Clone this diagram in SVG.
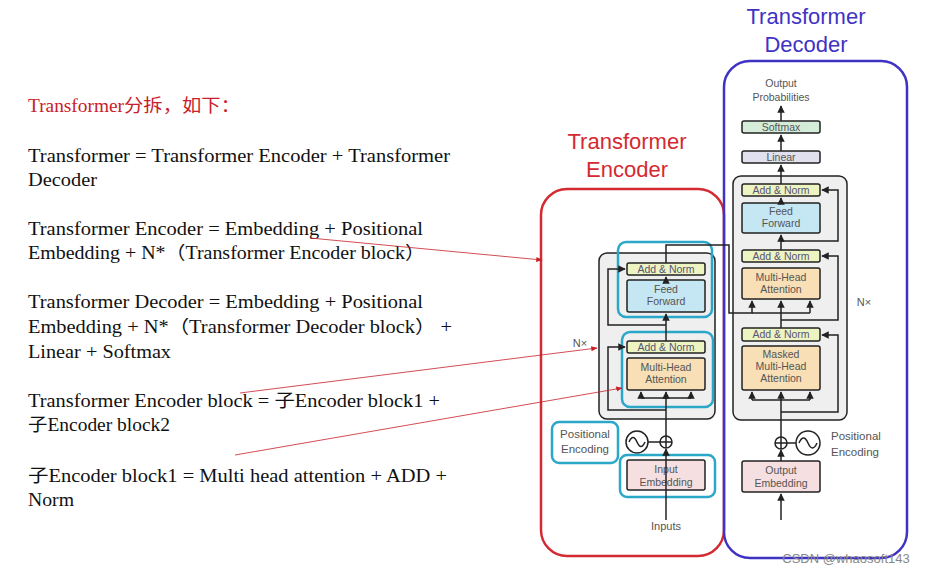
<svg xmlns="http://www.w3.org/2000/svg" width="936" height="574" viewBox="0 0 936 574">
<style>
.t{font-family:"Liberation Serif","Noto Sans CJK SC",serif;font-size:18px;fill:#111}
.s{font-family:"Liberation Sans",Arial,sans-serif;font-size:10.5px;fill:#555;text-anchor:middle}
.h{font-family:"Liberation Sans",Arial,sans-serif;font-size:22px;text-anchor:middle}
.b{stroke:#222;stroke-width:1.5}
.an{fill:#eef3c2}.ff{fill:#c5e6f3}.mh{fill:#f8dfb6}.em{fill:#f5dfe0}
.c{fill:none;stroke:#2aa7c9;stroke-width:2.5}
.l{fill:none;stroke:#222;stroke-width:1.5}
.r{fill:none;stroke:#c8202a;stroke-width:0.8}
</style>
<defs>
<marker id="a" viewBox="0 0 10 10" refX="9" refY="5" markerWidth="5" markerHeight="5" orient="auto"><path d="M0,0L10,5L0,10z" fill="#222"/></marker>
<marker id="ra" viewBox="0 0 10 10" refX="9" refY="5" markerWidth="8" markerHeight="8" orient="auto"><path d="M0,1L10,5L0,9z" fill="#c8202a"/></marker>
</defs>
<rect width="936" height="574" fill="#fff"/>
<g id="text">
<text x="28" y="112" class="t" style="fill:#c8202a" textLength="212" lengthAdjust="spacingAndGlyphs">Transformer分拆，如下：</text>
<text x="28" y="162" class="t" textLength="422" lengthAdjust="spacingAndGlyphs">Transformer = Transformer Encoder + Transformer</text>
<text x="28" y="186" class="t" textLength="69" lengthAdjust="spacingAndGlyphs">Decoder</text>
<text x="28" y="235" class="t" textLength="395" lengthAdjust="spacingAndGlyphs">Transformer Encoder = Embedding + Positional</text>
<text x="28" y="259" class="t" textLength="397" lengthAdjust="spacingAndGlyphs">Embedding + N*（Transformer Encoder block）</text>
<text x="28" y="308" class="t" textLength="395" lengthAdjust="spacingAndGlyphs">Transformer Decoder = Embedding + Positional</text>
<text x="28" y="333" class="t" textLength="424" lengthAdjust="spacingAndGlyphs">Embedding + N*（Transformer Decoder block） +</text>
<text x="28" y="358" class="t" textLength="143" lengthAdjust="spacingAndGlyphs">Linear + Softmax</text>
<text x="28" y="407" class="t" textLength="412" lengthAdjust="spacingAndGlyphs">Transformer Encoder block = 子Encoder block1 +</text>
<text x="28" y="431" class="t" textLength="142" lengthAdjust="spacingAndGlyphs">子Encoder block2</text>
<text x="28" y="482" class="t" textLength="419" lengthAdjust="spacingAndGlyphs">子Encoder block1 = Multi head attention + ADD +</text>
<text x="28" y="506" class="t" textLength="46" lengthAdjust="spacingAndGlyphs">Norm</text>
</g>
<g id="encoder">
<rect x="541" y="189" width="183" height="367" rx="26" fill="none" stroke="#d42a32" stroke-width="2.5"/>
<text x="627" y="149" class="h" fill="#d42a32">Transformer</text>
<text x="627" y="177" class="h" fill="#d42a32">Encoder</text>
<rect x="599" y="253" width="116" height="166" rx="8" fill="#efefef" class="b"/>
<rect x="627" y="263" width="78" height="12" rx="2" class="an b"/>
<text x="666" y="273" class="s" style="fill:#557">Add &amp; Norm</text>
<rect x="627" y="280" width="78" height="32" rx="2" class="ff b"/>
<text x="666" y="293" class="s">Feed</text><text x="666" y="305" class="s">Forward</text>
<rect x="627" y="341" width="78" height="12" rx="2" class="an b"/>
<text x="666" y="351" class="s" style="fill:#557">Add &amp; Norm</text>
<rect x="627" y="358" width="78" height="32" rx="2" class="mh b"/>
<text x="666" y="371" class="s">Multi-Head</text><text x="666" y="383" class="s">Attention</text>
<rect x="618" y="242" width="94" height="75" rx="8" class="c"/>
<rect x="622" y="332" width="91" height="75" rx="8" class="c"/>
<text x="580" y="347" class="s" style="font-size:11px">N×</text>
<rect x="552" y="422" width="66" height="41" rx="7" class="c"/>
<text x="585" y="438" class="s" style="font-size:11.5px">Positional</text>
<text x="585" y="453" class="s" style="font-size:11.5px">Encoding</text>
<circle cx="637" cy="442" r="11" class="l"/>
<path d="M629,442q4,-9 8,0t8,0" class="l"/>
<circle cx="666" cy="442" r="6" class="l"/><path d="M660,442h12M666,436v12" class="l"/>
<path d="M648,442h12" class="l"/>
<rect x="627" y="460" width="78" height="30" rx="2" class="em b"/>
<text x="666" y="473" class="s">Input</text><text x="666" y="486" class="s">Embedding</text>
<rect x="620" y="455" width="95" height="42" rx="7" class="c"/>
<text x="666" y="530" class="s" style="font-size:11px">Inputs</text>
</g>
<g id="decoder">
<rect x="724" y="61" width="183" height="497" rx="26" fill="none" stroke="#3f33c4" stroke-width="2.5"/>
<text x="806" y="24" class="h" fill="#3f33c4">Transformer</text>
<text x="806" y="52" class="h" fill="#3f33c4">Decoder</text>
<text x="781" y="87" class="s">Output</text><text x="781" y="101" class="s">Probabilities</text>
<rect x="742" y="121" width="78" height="12" rx="2" fill="#d4ecd8" class="b"/>
<text x="781" y="131" class="s">Softmax</text>
<rect x="742" y="151" width="78" height="12" rx="2" fill="#e0e0ee" class="b"/>
<text x="781" y="161" class="s">Linear</text>
<rect x="733" y="176" width="114" height="244" rx="8" fill="#efefef" class="b"/>
<rect x="742" y="184" width="78" height="12" rx="2" class="an b"/>
<text x="781" y="194" class="s" style="fill:#557">Add &amp; Norm</text>
<rect x="742" y="203" width="78" height="30" rx="2" class="ff b"/>
<text x="781" y="215" class="s">Feed</text><text x="781" y="227" class="s">Forward</text>
<rect x="742" y="250" width="78" height="12" rx="2" class="an b"/>
<text x="781" y="260" class="s" style="fill:#557">Add &amp; Norm</text>
<rect x="742" y="268" width="78" height="31" rx="2" class="mh b"/>
<text x="781" y="281" class="s">Multi-Head</text><text x="781" y="293" class="s">Attention</text>
<rect x="742" y="328" width="78" height="13" rx="2" class="an b"/>
<text x="781" y="338" class="s" style="fill:#557">Add &amp; Norm</text>
<rect x="742" y="346" width="78" height="44" rx="2" class="mh b"/>
<text x="781" y="358" class="s">Masked</text><text x="781" y="370" class="s">Multi-Head</text><text x="781" y="382" class="s">Attention</text>
<text x="864" y="306" class="s" style="font-size:11px">N×</text>
<circle cx="781" cy="443" r="6" class="l"/><path d="M775,443h12M781,437v12" class="l"/>
<circle cx="808" cy="443" r="12" class="l"/>
<path d="M799,443q4.5,-10 9,0t9,0" class="l"/>
<path d="M787,443h9" class="l"/>
<text x="831" y="440" class="s" style="text-anchor:start;font-size:11.5px">Positional</text>
<text x="831" y="456" class="s" style="text-anchor:start;font-size:11.5px">Encoding</text>
<rect x="742" y="461" width="78" height="31" rx="2" class="em b"/>
<text x="781" y="474" class="s">Output</text><text x="781" y="487" class="s">Embedding</text>
<text x="846" y="563" style="font-family:'Liberation Sans',Arial,sans-serif;font-size:13px;fill:#888;text-anchor:middle">CSDN @whaosoft143</text>
</g>
<g id="connectors">
<path d="M666,520V449" class="l" marker-end="url(#a)"/>
<path d="M666,436V392" class="l" marker-end="url(#a)"/>
<path d="M666,410H608V347H625" class="l" marker-end="url(#a)"/>
<path d="M641,398H691" class="l"/>
<path d="M641,398V392" class="l" marker-end="url(#a)"/>
<path d="M691,398V392" class="l" marker-end="url(#a)"/>
<path d="M666,341V314" class="l" marker-end="url(#a)"/>
<path d="M666,325H608V269H625" class="l" marker-end="url(#a)"/>
<path d="M666,280V277" class="l" marker-end="url(#a)"/>
<path d="M666,263V245H729V313H752V301" class="l" marker-end="url(#a)"/>
<path d="M781,520V494" class="l" marker-end="url(#a)"/>
<path d="M781,461V450" class="l" marker-end="url(#a)"/>
<path d="M781,437V392" class="l" marker-end="url(#a)"/>
<path d="M781,412H838V335H822" class="l" marker-end="url(#a)"/>
<path d="M752,400H810" class="l"/>
<path d="M752,400V392" class="l" marker-end="url(#a)"/>
<path d="M810,400V392" class="l" marker-end="url(#a)"/>
<path d="M781,328V301" class="l" marker-end="url(#a)"/>
<path d="M781,320H838V256H822" class="l" marker-end="url(#a)"/>
<path d="M810,313V301" class="l" marker-end="url(#a)"/>
<path d="M752,313H810" class="l"/>
<path d="M781,250V235" class="l" marker-end="url(#a)"/>
<path d="M781,241H838V190H822" class="l" marker-end="url(#a)"/>
<path d="M781,203V198" class="l" marker-end="url(#a)"/>
<path d="M781,184V165" class="l" marker-end="url(#a)"/>
<path d="M781,151V135" class="l" marker-end="url(#a)"/>
<path d="M781,121V106" class="l" marker-end="url(#a)"/>
<path d="M310,238L542,260" class="r" marker-end="url(#ra)"/>
<path d="M240,393L597,348" class="r" marker-end="url(#ra)"/>
<path d="M235,455L622,388" class="r" marker-end="url(#ra)"/>
</g>
</svg>
